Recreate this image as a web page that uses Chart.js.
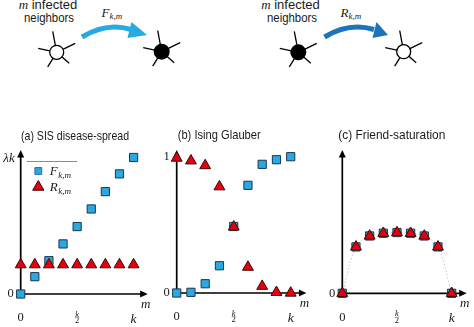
<!DOCTYPE html>
<html>
<head>
<meta charset="utf-8">
<script src="https://cdn.jsdelivr.net/npm/chart.js@4.4.1/dist/chart.umd.min.js"></script>
<style>
  html, body { margin: 0; padding: 0; background: #fff; width: 474px; height: 327px; overflow: hidden; position: relative; }
  canvas { position: absolute; }
  #diagram { position: absolute; left: 0; top: 0; }
</style>
</head>
<body>
<svg id="diagram" width="474" height="110" xmlns="http://www.w3.org/2000/svg">
  <defs>
    <g id="spokes" stroke="#000" stroke-width="1.3">
      <line x1="0" y1="0" x2="-4" y2="-21"/>
      <line x1="0" y1="0" x2="-18.5" y2="-4"/>
      <line x1="0" y1="0" x2="18.5" y2="-9"/>
      <line x1="0" y1="0" x2="-9" y2="14.5"/>
      <line x1="0" y1="0" x2="12.5" y2="11"/>
    </g>
  </defs>
  <g font-family="'Liberation Sans', Arial, sans-serif" font-size="13" fill="#1a1a1a">
    <text x="48" y="9" text-anchor="middle"><tspan font-family="'Liberation Serif', serif" font-style="italic">m</tspan> infected</text>
    <text x="24" y="22" textLength="50" lengthAdjust="spacingAndGlyphs">neighbors</text>
    <text x="290.5" y="9" text-anchor="middle"><tspan font-family="'Liberation Serif', serif" font-style="italic">m</tspan> infected</text>
    <text x="267" y="22" textLength="50" lengthAdjust="spacingAndGlyphs">neighbors</text>
  </g>
  <g font-family="'Liberation Serif', serif" font-style="italic" fill="#1a1a1a">
    <text x="101.5" y="16.5" font-size="13">F<tspan font-size="9" dy="2">k,m</tspan></text>
    <text x="340.5" y="16.5" font-size="13">R<tspan font-size="9" dy="2">k,m</tspan></text>
  </g>
  <!-- arrows -->
  <path d="M 82 37 Q 107 22 131 29.5" fill="none" stroke="#27aae1" stroke-width="5"/>
  <polygon points="131.5,22 147,35 127.5,38" fill="#27aae1"/>
  <path d="M 324.5 37 Q 349 22 374 29.5" fill="none" stroke="#1c75bc" stroke-width="5"/>
  <polygon points="376.5,22 388,35 372.5,38" fill="#1c75bc"/>
  <!-- nodes -->
  <g transform="translate(56.7,52.3)"><use href="#spokes"/><circle r="7" fill="#fff" stroke="#000" stroke-width="1.3"/></g>
  <g transform="translate(161.7,51.7)"><use href="#spokes"/><circle r="8" fill="#000"/></g>
  <g transform="translate(298.3,52.3)"><use href="#spokes"/><circle r="8" fill="#000"/></g>
  <g transform="translate(403.7,51.7)"><use href="#spokes"/><circle r="7" fill="#fff" stroke="#000" stroke-width="1.3"/></g>
</svg>

<canvas id="chartSIS"></canvas>
<canvas id="chartIsing"></canvas>
<canvas id="chartFriend"></canvas>

<script>
// number of infected neighbours m = 0..k (k = 8 in the sketch)
const mValues = [0, 1, 2, 3, 4, 5, 6, 7, 8];
const xTickValues = [0, 4, 8];
const xTickLabels = ['0', 'k/2', 'k'];

// (a) SIS disease-spread
const sisF = [0, 0.127, 0.244, 0.367, 0.494, 0.623, 0.75, 0.88, 1.0];
const sisR = [0.215, 0.215, 0.215, 0.215, 0.215, 0.215, 0.215, 0.215, 0.215];

// (b) Ising Glauber
const isingF = [0, 0.005, 0.068, 0.2, 0.488, 0.79, 0.944, 0.978, 1.0];
const isingR = [0.99, 0.97, 0.935, 0.78, 0.485, 0.19, 0.05, 0.005, 0];

// (c) Friend-saturation
const friendF = [0, 0.34, 0.42, 0.44, 0.445, 0.44, 0.42, 0.34, 0];
const friendR = [0, 0.34, 0.42, 0.44, 0.445, 0.44, 0.42, 0.34, 0];

const BLUE = '#29a9e0';
const RED = '#e3000f';
const SERIF = "'Liberation Serif', 'DejaVu Serif', serif";
const SANS = "'Liberation Sans', Arial, sans-serif";

const toPoints = vals => vals.map((v, i) => ({ x: mValues[i], y: v }));

function squares(vals) {
  return {
    label: 'F', data: toPoints(vals), order: 2, clip: false,
    pointStyle: 'rect', pointRadius: 5.8,
    backgroundColor: BLUE, borderColor: '#1d3550', borderWidth: 1
  };
}
function triangles(vals) {
  return {
    label: 'R', data: toPoints(vals), order: 1, clip: false,
    pointStyle: 'triangle', pointRadius: 6.3,
    backgroundColor: RED, borderColor: '#3a0a0a', borderWidth: 1
  };
}

// italic symbol with a subscript, e.g. F_{k,m}
function mathText(ctx, x, y, main, sub, size, align) {
  const mainFont = `italic ${size}px ${SERIF}`;
  const subFont = `italic ${size * 0.7}px ${SERIF}`;
  ctx.font = mainFont;
  const w1 = ctx.measureText(main).width;
  ctx.font = subFont;
  const w2 = sub ? ctx.measureText(sub).width : 0;
  let sx = x;
  if (align === 'right') sx = x - w1 - w2;
  if (align === 'center') sx = x - (w1 + w2) / 2;
  ctx.textAlign = 'left';
  ctx.textBaseline = 'alphabetic';
  ctx.font = mainFont;
  ctx.fillText(main, sx, y);
  if (sub) {
    ctx.font = subFont;
    ctx.fillText(sub, sx + w1 + 0.5, y + size * 0.22);
  }
}

const panelDecor = {
  id: 'panelDecor',
  beforeDatasetsDraw(chart, args, o) {
    const { ctx, scales: { x, y } } = chart;
    const x0 = x.getPixelForValue(0), y0 = y.getPixelForValue(0);
    const xEnd = x.getPixelForValue(x.max), yTop = y.getPixelForValue(y.max);
    ctx.save();
    ctx.strokeStyle = '#000';
    ctx.fillStyle = '#000';
    ctx.lineWidth = 1.7;
    ctx.beginPath();
    ctx.moveTo(x0 - 1, y0);
    ctx.lineTo(xEnd - 5, y0);
    ctx.moveTo(x0, y0 + 1);
    ctx.lineTo(x0, yTop + 5);
    ctx.stroke();
    ctx.beginPath();
    ctx.moveTo(xEnd, y0);
    ctx.lineTo(xEnd - 7.5, y0 - 3.5);
    ctx.lineTo(xEnd - 7.5, y0 + 3.5);
    ctx.closePath();
    ctx.fill();
    ctx.beginPath();
    ctx.moveTo(x0, yTop);
    ctx.lineTo(x0 - 3.5, yTop + 7.5);
    ctx.lineTo(x0 + 3.5, yTop + 7.5);
    ctx.closePath();
    ctx.fill();
    ctx.restore();
  },
  afterDraw(chart, args, o) {
    const { ctx, scales: { x, y } } = chart;
    const x0 = x.getPixelForValue(0), y0 = y.getPixelForValue(0);
    const xEnd = x.getPixelForValue(x.max);
    ctx.save();
    ctx.fillStyle = '#1a1a1a';

    // title
    ctx.font = `13px ${SANS}`;
    ctx.textAlign = 'left';
    ctx.textBaseline = 'middle';
    ctx.fillText(o.title, x0 + o.titleDx, y0 - 158, o.titleWidth);

    // y tick labels
    ctx.font = `12.5px ${SERIF}`;
    ctx.textAlign = 'right';
    ctx.textBaseline = 'middle';
    ctx.fillText('0', x0 - 7, y0);
    if (o.yTopLabel === 'λk') {
      mathText(ctx, x0 - 6, y.getPixelForValue(1) + 4, 'λk', '', 13, 'right');
    } else if (o.yTopLabel) {
      ctx.font = `12.5px ${SERIF}`;
      ctx.textAlign = 'right';
      ctx.textBaseline = 'middle';
      ctx.fillText(o.yTopLabel, x0 - 7, y.getPixelForValue(1));
    }

    // x tick labels, well below the axis
    const ty = y0 + 24;
    xTickValues.forEach((v, i) => {
      const px = x.getPixelForValue(v);
      const lab = xTickLabels[i];
      if (lab === '0') {
        ctx.font = `12.5px ${SERIF}`;
        ctx.textAlign = 'center';
        ctx.textBaseline = 'middle';
        ctx.fillText('0', px, ty);
      } else if (lab === 'k/2') {
        ctx.font = `italic 8.5px ${SERIF}`;
        ctx.textAlign = 'center';
        ctx.textBaseline = 'alphabetic';
        ctx.fillText('k', px, ty - 1.3);
        ctx.font = `8.5px ${SERIF}`;
        ctx.fillText('2', px, ty + 5.2);
        ctx.strokeStyle = '#999';
        ctx.lineWidth = 0.6;
        ctx.beginPath();
        ctx.moveTo(px - 2.5, ty - 0.3);
        ctx.lineTo(px + 2.5, ty - 0.3);
        ctx.stroke();
      } else {
        mathText(ctx, px, ty + 4.5, 'k', '', 13.5, 'center');
      }
    });

    // axis name m
    mathText(ctx, xEnd - 2, y0 + 14, 'm', '', 13, 'center');

    // legend (panel a only)
    if (o.legend) {
      const yTop = y.getPixelForValue(y.max);
      ctx.strokeStyle = '#8a8a8a';
      ctx.lineWidth = 1;
      ctx.beginPath();
      ctx.moveTo(x0 + 6, yTop + 11.5);
      ctx.lineTo(x0 + 56.5, yTop + 11.5);
      ctx.stroke();
      const lx = x0 + 17.6;
      ctx.fillStyle = BLUE;
      ctx.strokeStyle = '#2a6c99';
      Chart.helpers.drawPoint(ctx, { pointStyle: 'rect', radius: 4.8, borderWidth: 0.6 }, lx, yTop + 21);
      ctx.fillStyle = RED;
      ctx.strokeStyle = '#3a0a0a';
      ctx.lineWidth = 1;
      Chart.helpers.drawPoint(ctx, { pointStyle: 'triangle', radius: 6.5, borderWidth: 1 }, lx, yTop + 37);
      ctx.fillStyle = '#1a1a1a';
      mathText(ctx, x0 + 29, yTop + 25, 'F', 'k,m', 13, 'left');
      mathText(ctx, x0 + 29, yTop + 41.5, 'R', 'k,m', 13, 'left');
    }
    ctx.restore();
  }
};

function makePanel(id, cfg, datasets, decor) {
  const cv = document.getElementById(id);
  cv.width = cfg.width;
  cv.height = 207;
  cv.style.left = cfg.left + 'px';
  cv.style.top = '120px';
  const xEndPx = cfg.x0 + cfg.xMax * cfg.unitX;
  const yTopPx = cfg.y0 - cfg.yMax * cfg.unitY;
  return new Chart(cv, {
    type: 'scatter',
    data: { datasets },
    options: {
      responsive: false,
      animation: false,
      events: [],
      layout: {
        padding: {
          left: cfg.x0 - cfg.left,
          right: cfg.left + cfg.width - xEndPx,
          top: yTopPx - 120,
          bottom: 327 - cfg.y0
        }
      },
      scales: {
        x: { type: 'linear', min: 0, max: cfg.xMax, display: false },
        y: { type: 'linear', min: 0, max: cfg.yMax, display: false }
      },
      plugins: {
        legend: { display: false },
        tooltip: { enabled: false },
        panelDecor: decor
      }
    },
    plugins: [panelDecor]
  });
}

makePanel('chartSIS',
  { left: 0, width: 155, x0: 20.7, unitX: 14.25, y0: 294, unitY: 136.5, xMax: 9.0, yMax: 1.055 },
  [triangles(sisR), squares(sisF)],
  { title: '(a) SIS disease-spread', titleDx: 0.3, titleWidth: 108, yTopLabel: 'λk', legend: true });

makePanel('chartIsing',
  { left: 155, width: 160, x0: 176.7, unitX: 14.25, y0: 293, unitY: 136.3, xMax: 9.1, yMax: 1.05 },
  [triangles(isingR), squares(isingF)],
  { title: '(b) Ising Glauber', titleDx: 1, titleWidth: 83, yTopLabel: '1', legend: false });

makePanel('chartFriend',
  { left: 315, width: 159, x0: 342.3, unitX: 14.1, y0: 293.3, unitY: 136.5, xMax: 9.1, yMax: 1.05 },
  [
    triangles(friendR),
    squares(friendF),
    {
      type: 'line', label: 'trend', data: toPoints(friendF), order: 3, clip: false,
      showLine: true, pointRadius: 0, borderColor: '#c4c4c4', borderWidth: 1,
      borderDash: [1.5, 2], tension: 0.35, fill: false
    }
  ],
  { title: '(c) Friend-saturation', titleDx: -4, titleWidth: 107, yTopLabel: null, legend: false });
</script>
</body>
</html>
